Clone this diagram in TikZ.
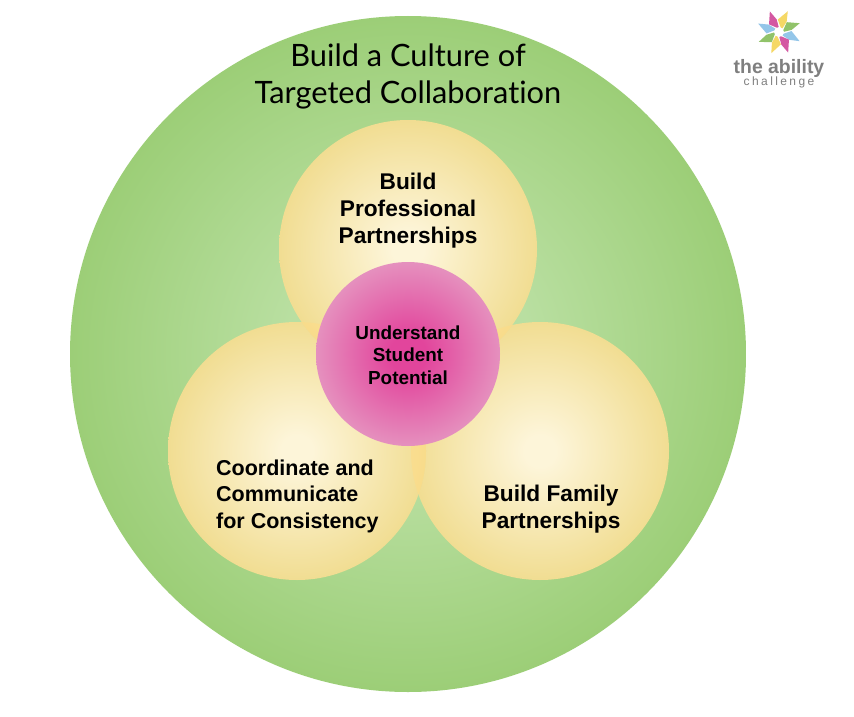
\documentclass[tikz,border=0pt]{standalone}
\usepackage{fontspec}
\setmainfont{Liberation Sans}
\newfontfamily\titlefont[Ligatures=NoCommon]{Lato}
\definecolor{logogray}{HTML}{7F7F7F}
\definecolor{lgmag}{HTML}{D2509E}
\definecolor{lgyel}{HTML}{F5D65E}
\definecolor{lggrn}{HTML}{8CC063}
\definecolor{lgblu}{HTML}{8FC3E8}
\definecolor{gIn}{HTML}{B9DFA1}
\definecolor{gOut}{HTML}{9CCE77}
\definecolor{yIn}{HTML}{FDF5D9}
\definecolor{yOut}{HTML}{F1DD92}
\definecolor{pIn}{HTML}{E2459C}
\definecolor{pOut}{HTML}{E590BE}
\definecolor{lensc}{HTML}{FFDC86}
\pgfdeclareradialshading{greensh}{\pgfpoint{0bp}{0bp}}{
  color(0bp)=(gIn); color(9bp)=(gIn); color(25bp)=(gOut); color(100bp)=(gOut)}
\pgfdeclareradialshading{yellowsh}{\pgfpoint{0bp}{0bp}}{
  color(0bp)=(yIn); color(3bp)=(yIn); color(25bp)=(yOut); color(100bp)=(yOut)}
\pgfdeclareradialshading{pinksh}{\pgfpoint{0bp}{0bp}}{
  color(0bp)=(pIn); color(5bp)=(pIn); color(25bp)=(pOut); color(100bp)=(pOut)}
\tikzset{
  disc/.style={circle,inner sep=0pt,minimum size=#1},
  biglabel/.style={font=\fontsize{22.7}{27.2}\selectfont\bfseries,text=black,inner sep=0pt},
  leftfont/.style={font=\fontsize{21.5}{26.5}\selectfont\bfseries,text=black,inner sep=0pt},
  smalllabel/.style={font=\fontsize{18.9}{22.5}\selectfont\bfseries,text=black,inner sep=0pt,align=center},
  petal/.style={fill=#1,draw=none,opacity=.95},
  lens/.style={fill=lensc,opacity=.55}
}
\begin{document}
\begin{tikzpicture}[x=1pt,y=-1pt]
\useasboundingbox (0,0) rectangle (854,717);
\fill[white] (0,0) rectangle (854,717);
\node[disc=676pt,shading=greensh] (outer) at (408,354) {};
\node[disc=258pt,shading=yellowsh] (right) at (540,451) {};
\node[disc=258pt,shading=yellowsh] (left) at (297,451) {};
\node[disc=258pt,shading=yellowsh] (top) at (408,249) {};
\begin{scope}
  \clip (left.center) circle (129);
  \fill[lens] (right.center) circle (129);
  \fill[lens] (top.center) circle (129);
\end{scope}
\begin{scope}
  \clip (right.center) circle (129);
  \fill[lens] (top.center) circle (129);
\end{scope}
\node[disc=184pt,shading=pinksh] (core) at (408,354) {};
\node[font=\fontsize{30.8}{37}\selectfont\titlefont,align=center,inner sep=0pt,text=black] (title) at (408,76) {Build a Culture of\\Targeted Collaboration};
\node[biglabel,align=center] (toplabel) at (408,210.5) {Build\\Professional\\Partnerships};
\node[leftfont,align=left,anchor=west] (leftlabel) at (216,496) {Coordinate and\\Communicate\\for Consistency};
\node[biglabel,align=center] (rightlabel) at (551,509.5) {Build Family\\Partnerships};
\node[smalllabel] (corelabel) at (408,355) {Understand\\Student\\Potential};
% logo
\begin{scope}[shift={(779,32)}]
\foreach \ang/\col in {114/lgmag,67/lgyel,23/lggrn,-24/lgblu,-66/lgmag,-110/lgyel,-154/lggrn,158/lgblu}{
  \fill[petal=\col,rotate=\ang] (3,1.5) -- (12.5,3) -- (22.5,0) -- (11,-6) -- cycle;
}
\fill[white] (0,0) circle (5);
\end{scope}
\node[font=\fontsize{19.4}{20}\selectfont\bfseries,text=logogray,inner sep=0pt] (logo1) at (779,68) {the ability};
\node[font=\fontsize{12}{12}\selectfont,text=logogray,inner sep=0pt] (logo2) at (779,82) {\addfontfeature{LetterSpace=20}challenge};
\end{tikzpicture}
\end{document}
